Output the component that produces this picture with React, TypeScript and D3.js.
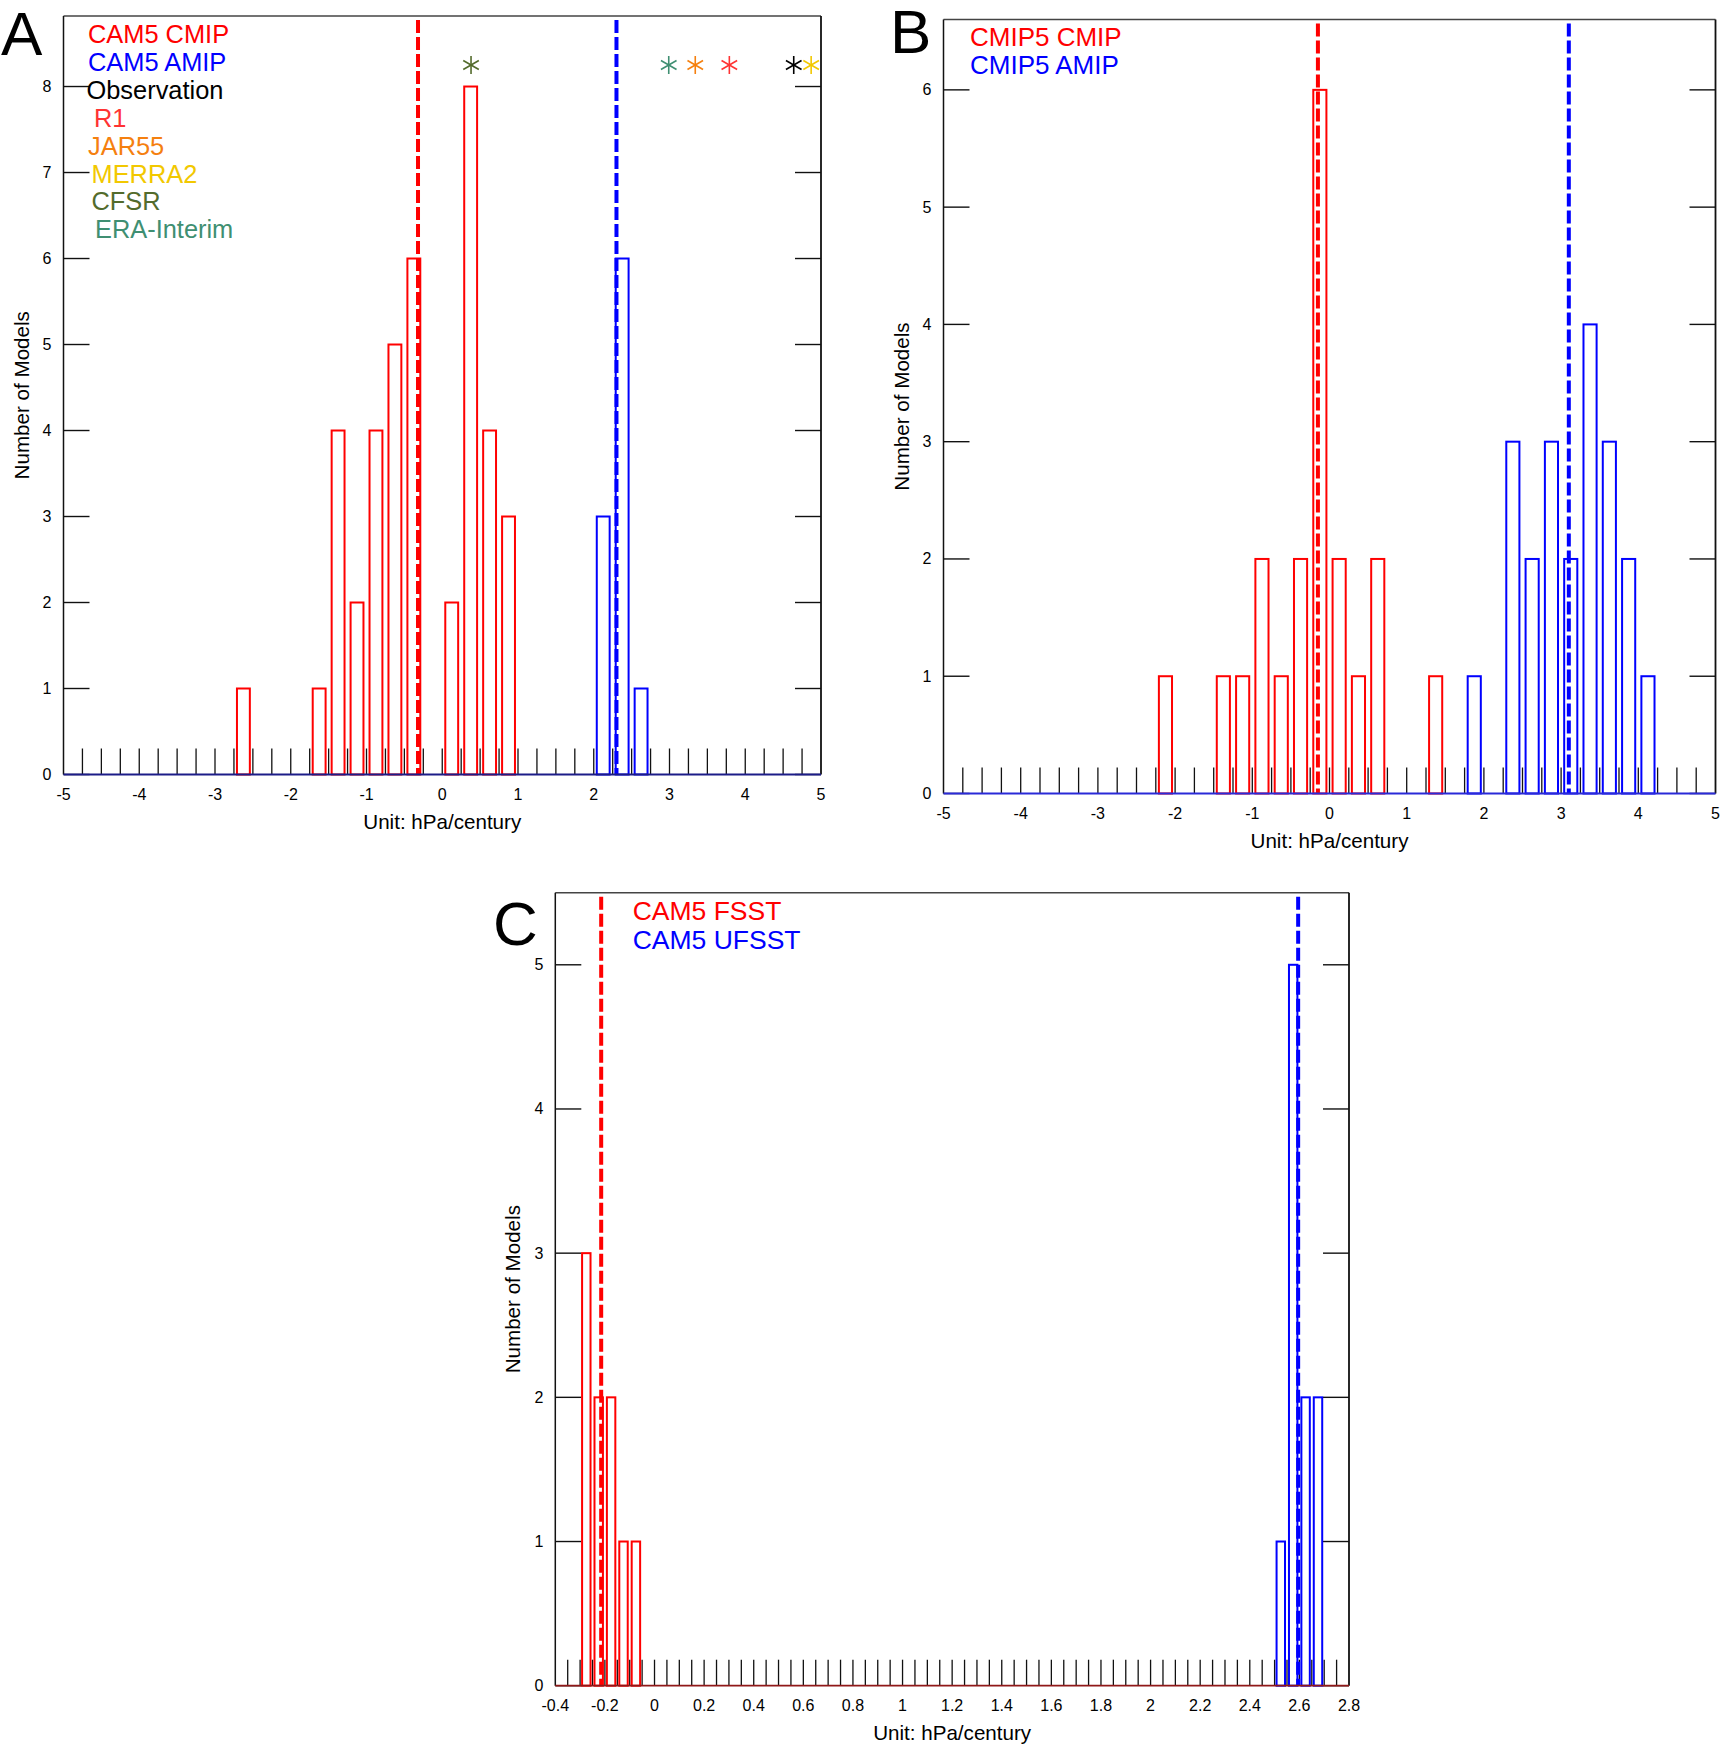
import * as d3 from 'd3';

// ---- Panel A: CAM5 coupled (CMIP) and AMIP runs, 0.25 hPa/century bins ----
const aCmipBins = [-2.625, -1.625, -1.375, -1.125, -0.875, -0.625, -0.375, 0.125, 0.375, 0.625, 0.875];
const aCmipCounts = [1, 1, 4, 2, 4, 5, 6, 2, 8, 4, 3];
const aAmipBins = [2.125, 2.375, 2.625];
const aAmipCounts = [3, 6, 1];
const aMeans = [-0.32, 2.3];

// reanalysis / observed trends shown as asterisks above the bars
const obsNames = ['Observation', 'R1', 'JAR55', 'MERRA2', 'CFSR', 'ERA-Interim'];
const obsTrends = [4.64, 3.79, 3.34, 4.87, 0.38, 2.99];

// ---- Panel B: CMIP5 ensemble ----
const bCmipBins = [-2.125, -1.375, -1.125, -0.875, -0.625, -0.375, -0.125, 0.125, 0.375, 0.625, 1.375];
const bCmipCounts = [1, 1, 1, 2, 1, 2, 6, 2, 1, 2, 1];
const bAmipBins = [1.875, 2.375, 2.625, 2.875, 3.125, 3.375, 3.625, 3.875, 4.125];
const bAmipCounts = [1, 3, 2, 3, 2, 4, 3, 2, 1];
const bMeans = [-0.15, 3.1];

// ---- Panel C: CAM5 fixed vs. unfixed SST, 0.05 hPa/century bins ----
const cFsstBins = [-0.275, -0.225, -0.175, -0.125, -0.075];
const cFsstCounts = [3, 2, 2, 1, 1];
const cUfsstBins = [2.525, 2.575, 2.625, 2.675];
const cUfsstCounts = [1, 5, 2, 2];
const cMeans = [-0.215, 2.595];

// tick labels
const abXTicks = [-5, -4, -3, -2, -1, 0, 1, 2, 3, 4, 5];
const cXTicks = [-0.4, -0.2, 0, 0.2, 0.4, 0.6, 0.8, 1, 1.2, 1.4, 1.6, 1.8, 2, 2.2, 2.4, 2.6, 2.8];
const aYTicks = [0, 1, 2, 3, 4, 5, 6, 7, 8];
const bYTicks = [0, 1, 2, 3, 4, 5, 6];
const cYTicks = [0, 1, 2, 3, 4, 5];

const FONT = 'Liberation Sans, Arial, Helvetica, sans-serif';
const RED = '#ff0000';
const BLUE = '#0000ff';
const TICK = 26;

const obsColors = {
  Observation: '#000000',
  R1: '#ff3333',
  JAR55: '#f5800f',
  MERRA2: '#f2c800',
  CFSR: '#536b2c',
  'ERA-Interim': '#3f8f72',
};

const panels = [
  {
    id: 'A',
    frame: { left: 63.5, right: 821, top: 16, bottom: 774.5 },
    xDomain: [-5, 5],
    yMax: 8.82,
    minorStep: 0.25,
    binWidth: 0.25,
    xTicks: abXTicks,
    yTicks: aYTicks,
    baseline: '#1c1c88',
    series: [
      { bins: aCmipBins, counts: aCmipCounts, mean: aMeans[0], color: RED },
      { bins: aAmipBins, counts: aAmipCounts, mean: aMeans[1], color: BLUE },
    ],
    letter: { x: 1, y: 55 },
    legend: {
      x: 88, y: 43, step: 27.9, size: 25.4,
      items: [
        { text: 'CAM5 CMIP', color: RED, dx: 0 },
        { text: 'CAM5 AMIP', color: BLUE, dx: 0 },
        ...obsNames.map((n) => ({
          text: n,
          color: obsColors[n],
          dx: ({ Observation: -1.5, R1: 6, JAR55: 0, MERRA2: 3.5, CFSR: 3.5, 'ERA-Interim': 7 } as any)[n],
        })),
      ],
    },
    starLevel: 8.25,
  },
  {
    id: 'B',
    frame: { left: 943.5, right: 1715.5, top: 19.5, bottom: 793.5 },
    xDomain: [-5, 5],
    yMax: 6.6,
    minorStep: 0.25,
    binWidth: 0.25,
    xTicks: abXTicks,
    yTicks: bYTicks,
    baseline: '#2a2ad8',
    series: [
      { bins: bCmipBins, counts: bCmipCounts, mean: bMeans[0], color: RED },
      { bins: bAmipBins, counts: bAmipCounts, mean: bMeans[1], color: BLUE },
    ],
    letter: { x: 890, y: 53 },
    legend: {
      x: 970, y: 46, step: 28, size: 26,
      items: [
        { text: 'CMIP5 CMIP', color: RED, dx: 0 },
        { text: 'CMIP5 AMIP', color: BLUE, dx: 0 },
      ],
    },
  },
  {
    id: 'C',
    frame: { left: 555.3, right: 1349, top: 892.7, bottom: 1685.7 },
    xDomain: [-0.4, 2.8],
    yMax: 5.5,
    minorStep: 0.05,
    binWidth: 0.05,
    xTicks: cXTicks,
    yTicks: cYTicks,
    baseline: '#901818',
    series: [
      { bins: cUfsstBins, counts: cUfsstCounts, mean: cMeans[1], color: BLUE },
      { bins: cFsstBins, counts: cFsstCounts, mean: cMeans[0], color: RED },
    ],
    letter: { x: 493, y: 945 },
    legend: {
      x: 632.7, y: 920, step: 28.7, size: 26.5,
      items: [
        { text: 'CAM5 FSST', color: RED, dx: 0 },
        { text: 'CAM5 UFSST', color: BLUE, dx: 0 },
      ],
    },
  },
];

function Asterisk({ cx, cy, r, color }) {
  const a = Math.PI / 6;
  const dx = r * Math.cos(a);
  const dy = r * Math.sin(a);
  return (
    <g stroke={color} strokeWidth={1.6}>
      <line x1={cx} y1={cy - r} x2={cx} y2={cy + r} />
      <line x1={cx - dx} y1={cy - dy} x2={cx + dx} y2={cy + dy} />
      <line x1={cx - dx} y1={cy + dy} x2={cx + dx} y2={cy - dy} />
    </g>
  );
}

function Histogram({ cfg }) {
  const { frame } = cfg;
  const x = d3.scaleLinear().domain(cfg.xDomain).range([frame.left, frame.right]);
  const y = d3.scaleLinear().domain([0, cfg.yMax]).range([frame.bottom, frame.top]);

  const [x0, x1] = cfg.xDomain;
  const nMinor = Math.round((x1 - x0) / cfg.minorStep);
  const minor = d3.range(1, nMinor).map((i) => x0 + i * cfg.minorStep);
  const half = cfg.binWidth * 0.34;
  const midX = (frame.left + frame.right) / 2;
  const midY = (frame.top + frame.bottom) / 2;

  return (
    <g fontFamily={FONT}>
      {/* bottom minor ticks */}
      <g stroke="#111" strokeWidth={1.3}>
        {minor.map((v, i) => (
          <line key={i} x1={x(v)} x2={x(v)} y1={frame.bottom} y2={frame.bottom - TICK} />
        ))}
      </g>

      {/* y ticks on both sides */}
      <g stroke="#111" strokeWidth={1.4}>
        {cfg.yTicks.map((t) => (
          <g key={t}>
            <line x1={frame.left} x2={frame.left + TICK} y1={y(t)} y2={y(t)} />
            <line x1={frame.right - TICK} x2={frame.right} y1={y(t)} y2={y(t)} />
          </g>
        ))}
      </g>

      {/* frame */}
      <line x1={frame.left} x2={frame.right} y1={frame.top} y2={frame.top} stroke="#444" strokeWidth={1.5} />
      <line x1={frame.left} x2={frame.left} y1={frame.top} y2={frame.bottom} stroke="#111" strokeWidth={1.5} />
      <line x1={frame.right} x2={frame.right} y1={frame.top} y2={frame.bottom} stroke="#111" strokeWidth={1.8} />

      {/* outlined histogram bars */}
      {cfg.series.map((s, si) => (
        <g key={si} fill="none" stroke={s.color} strokeWidth={2}>
          {s.bins.map((b, i) => (
            <rect
              key={i}
              x={x(b - half)}
              y={y(s.counts[i])}
              width={x(b + half) - x(b - half)}
              height={y(0) - y(s.counts[i])}
            />
          ))}
        </g>
      ))}

      {/* ensemble means */}
      {cfg.series.map((s, si) => (
        <line
          key={si}
          x1={x(s.mean)}
          x2={x(s.mean)}
          y1={frame.top + 4}
          y2={frame.bottom}
          stroke={s.color}
          strokeWidth={4}
          strokeDasharray="13,4"
        />
      ))}

      {/* baseline */}
      <line x1={frame.left} x2={frame.right} y1={frame.bottom} y2={frame.bottom} stroke={cfg.baseline} strokeWidth={1.8} />

      {/* observed trends */}
      {cfg.starLevel != null &&
        obsNames.map((n, i) => (
          <Asterisk key={n} cx={x(obsTrends[i])} cy={y(cfg.starLevel)} r={9} color={obsColors[n]} />
        ))}

      {/* tick labels */}
      <g fontSize={16} fill="#000" textAnchor="middle">
        {cfg.xTicks.map((t) => (
          <text key={t} x={x(t)} y={frame.bottom + 25}>
            {String(t)}
          </text>
        ))}
      </g>
      <g fontSize={16} fill="#000" textAnchor="end">
        {cfg.yTicks.map((t) => (
          <text key={t} x={frame.left - 12} y={y(t) + 5.5}>
            {t}
          </text>
        ))}
      </g>

      {/* axis titles */}
      <text x={midX} y={frame.bottom + 54} fontSize={20.6} textAnchor="middle">
        Unit: hPa/century
      </text>
      <text
        transform={`translate(${frame.left - 35},${midY}) rotate(-90)`}
        fontSize={20.6}
        textAnchor="middle"
      >
        Number of Models
      </text>

      {/* legend */}
      <g fontSize={cfg.legend.size}>
        {cfg.legend.items.map((it, i) => (
          <text key={it.text} x={cfg.legend.x + it.dx} y={cfg.legend.y + i * cfg.legend.step} fill={it.color}>
            {it.text}
          </text>
        ))}
      </g>

      {/* panel letter */}
      <text x={cfg.letter.x} y={cfg.letter.y} fontSize={62} fill="#000">
        {cfg.id}
      </text>
    </g>
  );
}

export default function App() {
  return (
    <svg
      width={1720}
      height={1747}
      style={{ position: 'absolute', left: 0, top: 0, background: '#fff' }}
    >
      <rect width={1720} height={1747} fill="#fff" />
      {panels.map((p) => (
        <Histogram key={p.id} cfg={p} />
      ))}
    </svg>
  );
}
